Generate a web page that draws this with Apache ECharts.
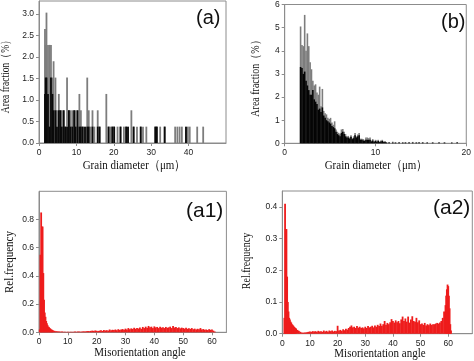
<!DOCTYPE html>
<html>
<head>
<meta charset="utf-8">
<script src="https://cdn.jsdelivr.net/npm/echarts@6/dist/echarts.min.js"></script>
<style>html,body{margin:0;padding:0;background:#fff}#c{width:474px;height:361px}</style>
</head>
<body>
<div id="c"></div>
<script>
// Panel (a): grain diameter histogram (µm, area fraction %)
const aDiameter = [1.6,1.8,2.0,2.4,2.8,3.2,3.6,3.9,4.4,4.8,5.3,5.7,6.1,6.6,7.0,7.5,8.0,8.4,8.9,9.4,9.8,10.3,10.8,11.2,11.7,12.3,12.9,13.3,13.8,14.3,14.8,15.7,16.2,18.0,18.6,19.1,19.6,20.1,21.0,21.8,22.7,23.3,23.8,24.7,25.3,26.2,27.2,27.8,28.7,31.1,31.5,32.4,33.6,36.4,37.0,37.6,38.2,39.3,39.8,40.3,42.3,43.9];
const aGray = [2.65,2.28,3.03,2.28,2.28,2.28,1.52,1.90,1.52,0.76,1.14,0.76,0.76,0.76,0.38,1.52,0.76,0.76,0.76,0.76,0.76,0.76,1.14,0.76,0.38,0.38,1.52,0.76,0.38,0.76,0.38,0.76,0.38,1.14,0.38,0.38,0.38,0.38,0.38,0.38,0.38,0.38,0.38,0.76,0.38,0.38,0.38,0.38,0.38,0.38,0.38,0.38,0.38,0.38,0.38,0.38,0.38,0.38,0.38,0.38,0.38,0.38];
const aBlack = [1.14,1.52,1.52,1.14,0.38,1.52,1.14,0.76,0.76,0.38,0.76,0.76,0.38,0.76,0.38,0.38,0.76,0.38,0.38,0.76,0.38,0.76,0.38,0.38,0.38,0.38,0.38,0.38,0,0.38,0,0.38,0.38,0,0.38,0,0.38,0.38,0,0.38,0,0.38,0.38,0,0.38,0,0.38,0,0,0.38,0.38,0,0.38,0,0,0,0,0.38,0,0,0,0];

// Panel (b)
const bDiameter = [1.75,1.9,2.05,2.2,2.35,2.5,2.65,2.8,2.95,3.1,3.25,3.4,3.55,3.7,3.85,4.0,4.15,4.3,4.45,4.6,4.75,4.9,5.05,5.2,5.35,5.5,5.65,5.8,5.95,6.1,6.25,6.4,6.55,6.7,6.85,7.0,7.15,7.3,7.45,7.6,7.75,7.9,8.05,8.2,8.35,8.5,8.65,8.8,8.95,9.1,9.25,9.4,9.55,9.7,9.85,10.0,10.15,10.3,10.45,10.6,10.75,10.9,11.05,11.2,11.5,11.9,12.2,12.6,13.0,13.3,13.7,14.1,14.5,14.8,15.2,15.7,16.3,17.0,17.6,18.4,19.0];
const bGray = [5.05,4.25,4.2,5.55,4.0,4.75,4.2,3.5,3.2,2.7,2.5,2.55,2.2,2.1,2.45,1.6,2.35,1.4,1.3,1.25,1.1,1.05,1.1,0.9,0.8,0.95,0.6,0.5,0.45,0.4,0.6,0.62,0.5,0.4,0.3,0.32,0.25,0.35,0.22,0.3,0.45,0.3,0.38,0.45,0.2,0.2,0.18,0.15,0.25,0.25,0.22,0.25,0.12,0.18,0.1,0.15,0.12,0.15,0.08,0.12,0.15,0.08,0.1,0.05,0.05,0.07,0.04,0.05,0.04,0.05,0.04,0.06,0.04,0.05,0.05,0.04,0.04,0.03,0.04,0.03,0.04];
const bBlack = [3.3,3.25,3.0,3.1,2.7,2.5,2.3,2.1,2.1,2.3,1.9,1.8,1.7,1.45,1.5,1.35,1.55,1.2,1.1,1.0,0.95,0.9,0.85,0.75,0.7,0.65,0.5,0.4,0.35,0.3,0.45,0.5,0.4,0.3,0.25,0.25,0.2,0.28,0.18,0.22,0.35,0.25,0.3,0.35,0.15,0.15,0.12,0.1,0.15,0.15,0.15,0.15,0.08,0.12,0.06,0.1,0.06,0.1,0.05,0.08,0.1,0.05,0.06,0.03,0.03,0.03,0.03,0.03,0.03,0.03,0.03,0.03,0.03,0.03,0.03,0.03,0.03,0.03,0.03,0.03,0.03];

// Panel (a1): misorientation angle (deg), rel. frequency
const a1Angle = [0.25,0.5,0.75,1.0,1.25,1.5,1.75,2.0,2.25,2.5,2.75,3.0,3.25,3.5,3.75,4.0,4.25,4.5,4.75,5.0,5.5,6,6.5,7,7.5,8,8.5,9,9.5,10,10.5,11,11.5,12,12.5,13,13.5,14,14.5,15,15.5,16,16.5,17,17.5,18,18.5,19,19.5,20,20.5,21,21.5,22,22.5,23,23.5,24,24.5,25,25.5,26,26.5,27,27.5,28,28.5,29,29.5,30,30.5,31,31.5,32,32.5,33,33.5,34,34.5,35,35.5,36,36.5,37,37.5,38,38.5,39,39.5,40,40.5,41,41.5,42,42.5,43,43.5,44,44.5,45,45.5,46,46.5,47,47.5,48,48.5,49,49.5,50,50.5,51,51.5,52,52.5,53,53.5,54,54.5,55,55.5,56,56.5,57,57.5,58,58.5,59,59.5,60,60.5,61];
const a1Freq = [0.02,0.55,0.85,0.75,0.75,0.42,0.23,0.14,0.11,0.08,0.065,0.05,0.04,0.035,0.03,0.025,0.02,0.018,0.015,0.012,0.01,0.008,0.007,0.006,0.005,0.005,0.004,0.004,0.003,0.004,0.003,0.004,0.003,0.004,0.005,0.004,0.005,0.006,0.004,0.006,0.007,0.006,0.008,0.009,0.008,0.01,0.012,0.01,0.013,0.011,0.009,0.012,0.014,0.01,0.016,0.013,0.015,0.012,0.02,0.014,0.018,0.016,0.02,0.015,0.022,0.017,0.02,0.023,0.018,0.026,0.02,0.03,0.022,0.028,0.024,0.032,0.025,0.03,0.027,0.034,0.025,0.038,0.03,0.04,0.032,0.045,0.035,0.04,0.03,0.042,0.035,0.038,0.03,0.04,0.033,0.036,0.03,0.038,0.032,0.035,0.04,0.03,0.044,0.034,0.038,0.03,0.035,0.028,0.033,0.03,0.026,0.032,0.025,0.028,0.024,0.03,0.022,0.026,0.02,0.025,0.022,0.03,0.02,0.023,0.018,0.02,0.016,0.022,0.018,0.02,0.012,0.005];

// Panel (a2)
const a2Angle = [0.75,1.0,1.25,1.5,1.75,2.0,2.25,2.5,2.75,3.0,3.25,3.5,3.75,4.0,4.25,4.5,4.75,5.0,5.5,6.0,6.5,7,7.5,8,8.5,9,9.5,10,10.5,11,11.5,12,12.5,13,13.5,14,14.5,15,15.5,16,16.5,17,17.5,18,18.5,19,19.5,20,20.5,21,21.5,22,22.5,23,23.5,24,24.5,25,25.5,26,26.5,27,27.5,28,28.5,29,29.5,30,30.5,31,31.5,32,32.5,33,33.5,34,34.5,35,35.5,36,36.5,37,37.5,38,38.5,39,39.5,40,40.5,41,41.5,42,42.5,43,43.5,44,44.5,45,45.5,46,46.5,47,47.5,48,48.5,49,49.5,50,50.5,51,51.5,52,52.5,53,53.5,54,54.5,55,55.5,56,56.5,57,57.5,58,58.5,59,59.25,59.5,59.75,60,60.25,60.5,60.75,61];
const a2Freq = [0.05,0.41,0.33,0.33,0.18,0.1,0.07,0.05,0.045,0.038,0.035,0.03,0.028,0.025,0.022,0.02,0.018,0.016,0.012,0.009,0.006,0.004,0.003,0.004,0.004,0.005,0.006,0.007,0.006,0.008,0.007,0.008,0.006,0.009,0.007,0.008,0.006,0.01,0.007,0.009,0.006,0.01,0.008,0.01,0.007,0.009,0.008,0.025,0.01,0.012,0.009,0.014,0.011,0.016,0.013,0.018,0.022,0.026,0.02,0.022,0.018,0.024,0.019,0.022,0.018,0.02,0.017,0.022,0.018,0.024,0.02,0.022,0.025,0.02,0.026,0.022,0.028,0.024,0.032,0.025,0.03,0.04,0.028,0.034,0.03,0.036,0.046,0.04,0.035,0.042,0.036,0.04,0.033,0.045,0.054,0.04,0.048,0.038,0.054,0.035,0.045,0.055,0.04,0.038,0.05,0.036,0.042,0.03,0.032,0.028,0.034,0.026,0.03,0.027,0.032,0.028,0.03,0.03,0.032,0.034,0.032,0.035,0.04,0.05,0.07,0.09,0.12,0.14,0.155,0.15,0.12,0.08,0.03,0.01];

const panelLabels = ['(a)','(b)','(a1)','(a2)'];
const xTitles = ['Grain diameter（μm）','Grain diameter（μm）','Misorientation angle','Misorientation angle'];
const yTitles = ['Area fraction（%）','Area fraction（%）','Rel.frequency','Rel.frequency'];

const pairs = (xs, ys) => xs.map((x, i) => [x, ys[i]]);

const chart = echarts.init(document.getElementById('c'), null, {renderer: 'canvas'});
const frame = '#8c8c8c';
const tickFont = {fontSize: 8.5, color: '#222', fontFamily: 'Liberation Sans, Arial, sans-serif'};
const serif = 'Liberation Serif, Times New Roman, serif';
const labelFont = 'Liberation Sans, Arial, sans-serif';

function xAxis(idx, max, interval, showMax) {
  return {
    type: 'value', gridIndex: idx, min: 0, max: max, interval: interval,
    axisLine: {show: true, lineStyle: {color: frame, width: 1}},
    axisTick: {show: true, length: 3, lineStyle: {color: frame}},
    axisLabel: Object.assign({margin: 5, showMaxLabel: !!showMax}, tickFont),
    splitLine: {show: false}
  };
}
function yAxis(idx, max, interval, dec) {
  return {
    type: 'value', gridIndex: idx, min: 0, max: max, interval: interval,
    axisLine: {show: true, lineStyle: {color: frame, width: 1}},
    axisTick: {show: true, length: 3, lineStyle: {color: frame}},
    axisLabel: Object.assign({margin: 5, showMaxLabel: max % interval === 0, formatter: v => v.toFixed(dec)}, tickFont),
    splitLine: {show: false}
  };
}
// axis titles: [text, centerX, centerY, fontSize, stretch perpendicular to text, vertical?]
function title(text, cx, cy, fs, stretch, vertical) {
  return {
    type: 'text', x: cx, y: cy, rotation: vertical ? Math.PI / 2 : 0,
    scaleX: 1, scaleY: stretch,
    style: {text: text, fontSize: fs, fill: '#111', fontFamily: serif, align: 'center', verticalAlign: 'middle'}
  };
}

const gridBase = {show: true, borderColor: frame, borderWidth: 1, containLabel: false};
chart.setOption({
  animation: false,
  backgroundColor: '#fff',
  grid: [
    Object.assign({left: 39, top: 1, width: 187, height: 142}, gridBase),
    Object.assign({left: 284.7, top: 4.5, width: 183.5, height: 138.8}, gridBase),
    Object.assign({left: 39, top: 191.3, width: 187.4, height: 141}, gridBase),
    Object.assign({left: 282.3, top: 191, width: 190, height: 142.7}, gridBase)
  ],
  xAxis: [xAxis(0, 50, 10), xAxis(1, 20, 10, true), xAxis(2, 65, 10), xAxis(3, 68.7, 10)],
  yAxis: [yAxis(0, 3.3, 0.5, 1), yAxis(1, 6, 1, 0), yAxis(2, 1.0, 0.2, 1), yAxis(3, 0.45, 0.1, 1)],
  graphic: [
    {type: 'text', left: 196, top: 8, style: {text: panelLabels[0], fontSize: 20, fill: '#111', fontFamily: labelFont}},
    {type: 'text', left: 441, top: 12, style: {text: panelLabels[1], fontSize: 20, fill: '#111', fontFamily: labelFont}},
    {type: 'text', left: 186, top: 201, style: {text: panelLabels[2], fontSize: 21, fill: '#111', fontFamily: labelFont}},
    {type: 'text', left: 433, top: 198, style: {text: panelLabels[3], fontSize: 21, fill: '#111', fontFamily: labelFont}},
    title(xTitles[0], 134, 166, 11, 1.15, false),
    title(xTitles[1], 376, 166, 11, 1.15, false),
    title(xTitles[2], 140, 353, 11, 1.15, false),
    title(xTitles[3], 380, 354, 11, 1.15, false),
    title(yTitles[0], 6, 74, 9.5, 1.25, true),
    title(yTitles[1], 256, 76, 10, 1.2, true),
    title(yTitles[2], 10, 262, 11, 1.05, true),
    title(yTitles[3], 247, 261, 10, 1.15, true)
  ],
  series: [
    {type: 'bar', xAxisIndex: 0, yAxisIndex: 0, data: pairs(aDiameter, aGray), barWidth: 1.8, barGap: '-100%', itemStyle: {color: '#7d7d7d'}},
    {type: 'bar', xAxisIndex: 0, yAxisIndex: 0, data: pairs(aDiameter, aBlack), barWidth: 1.8, barGap: '-100%', itemStyle: {color: '#0a0a0a'}},
    {type: 'bar', xAxisIndex: 1, yAxisIndex: 1, data: pairs(bDiameter, bGray), barWidth: 1.6, barGap: '-100%', itemStyle: {color: '#7d7d7d'}},
    {type: 'bar', xAxisIndex: 1, yAxisIndex: 1, data: pairs(bDiameter, bBlack), barWidth: 1.6, barGap: '-100%', itemStyle: {color: '#050505'}},
    {type: 'bar', xAxisIndex: 2, yAxisIndex: 2, data: pairs(a1Angle, a1Freq), barWidth: 1.8, itemStyle: {color: '#ee1c1c'}},
    {type: 'bar', xAxisIndex: 3, yAxisIndex: 3, data: pairs(a2Angle, a2Freq), barWidth: 1.8, itemStyle: {color: '#ee1c1c'}}
  ]
});
</script>
</body>
</html>
